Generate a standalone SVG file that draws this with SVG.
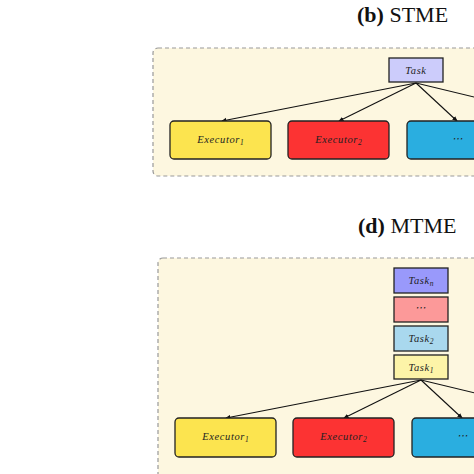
<svg xmlns="http://www.w3.org/2000/svg" width="474" height="474" viewBox="0 0 474 474">
<defs>
<style>
.panel{fill:#fdf7e0;stroke:#999;stroke-width:1.2;stroke-dasharray:4 3}
.box{stroke:#222;stroke-width:1.3}
.lbl{font-family:"Liberation Serif","DejaVu Serif",serif;font-style:italic;font-size:10.5px;letter-spacing:0.6px;fill:#222;text-anchor:middle}
.sub{font-size:7.5px;letter-spacing:0}
.title{font-family:"Liberation Serif",serif;font-size:22px;fill:#111}
.edge{stroke:#111;stroke-width:1.1;fill:none;marker-end:url(#ah)}
</style>
<marker id="ah" viewBox="0 0 6 6" refX="5" refY="3" markerWidth="5" markerHeight="5" orient="auto">
<path d="M0,0.5 L6,3 L0,5.5 z" fill="#111"/>
</marker>
</defs>
<rect width="474" height="474" fill="#fff"/>

<text class="title" x="357" y="22"><tspan font-weight="bold">(b)</tspan> STME</text>
<rect class="panel" x="153" y="48" width="340" height="128" rx="5"/>

<text class="title" x="358" y="233"><tspan font-weight="bold">(d)</tspan> MTME</text>
<rect class="panel" x="158" y="258" width="340" height="230" rx="5"/>

<g id="connectors">
<line class="edge" x1="416" y1="83" x2="222" y2="121"/>
<line class="edge" x1="416" y1="83" x2="339" y2="121"/>
<line class="edge" x1="416" y1="83" x2="457" y2="121"/>
<line class="edge" x1="416" y1="83" x2="574" y2="121"/>
<line class="edge" x1="421" y1="380" x2="226" y2="418"/>
<line class="edge" x1="421" y1="380" x2="344" y2="418"/>
<line class="edge" x1="421" y1="380" x2="462" y2="418"/>
<line class="edge" x1="421" y1="380" x2="579" y2="418"/>
</g>

<g id="b-task"><rect class="box" x="389" y="58" width="54" height="24" fill="#ccccfb"/><text class="lbl" x="416" y="74">Task</text></g>
<g id="b-exec1"><rect class="box" x="170" y="121" width="101" height="38" rx="4" fill="#fce44f"/><text class="lbl" x="220.5" y="143">Executor<tspan class="sub" dy="2">1</tspan></text></g>
<g id="b-exec2"><rect class="box" x="288" y="121" width="101" height="38" rx="4" fill="#fc3333"/><text class="lbl" x="338.5" y="143">Executor<tspan class="sub" dy="2">2</tspan></text></g>
<g id="b-exec3"><rect class="box" x="407" y="121" width="101" height="38" rx="4" fill="#2aaee0"/><text class="lbl" x="457.5" y="142">⋯</text></g>

<g id="d-taskn"><rect class="box" x="394" y="268" width="54" height="25" fill="#9999fb"/><text class="lbl" x="421" y="284">Task<tspan class="sub" dy="2">n</tspan></text></g>
<g id="d-taskdots"><rect class="box" x="394" y="297" width="54" height="25" fill="#fc9999"/><text class="lbl" x="421" y="311">⋯</text></g>
<g id="d-task2"><rect class="box" x="394" y="326" width="54" height="25" fill="#a9d8ee"/><text class="lbl" x="421" y="342">Task<tspan class="sub" dy="2">2</tspan></text></g>
<g id="d-task1"><rect class="box" x="394" y="355" width="54" height="24" fill="#fdf4a8"/><text class="lbl" x="421" y="370.5">Task<tspan class="sub" dy="2">1</tspan></text></g>
<g id="d-exec1"><rect class="box" x="175" y="418" width="101" height="39" rx="4" fill="#fce44f"/><text class="lbl" x="225.5" y="440">Executor<tspan class="sub" dy="2">1</tspan></text></g>
<g id="d-exec2"><rect class="box" x="293" y="418" width="101" height="39" rx="4" fill="#fc3333"/><text class="lbl" x="343.5" y="440">Executor<tspan class="sub" dy="2">2</tspan></text></g>
<g id="d-exec3"><rect class="box" x="412" y="418" width="101" height="39" rx="4" fill="#2aaee0"/><text class="lbl" x="462.5" y="439">⋯</text></g>
</svg>
